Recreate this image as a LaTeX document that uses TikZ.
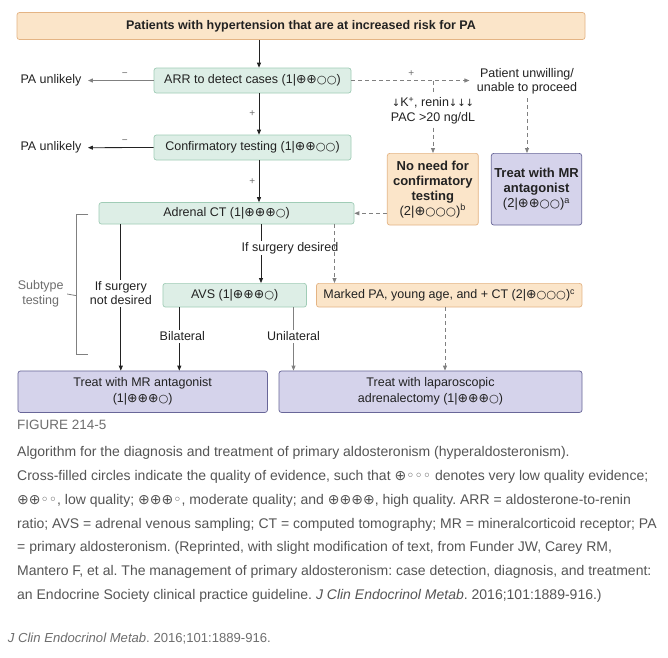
\documentclass[tikz,border=0pt]{standalone}
\usepackage{fontspec}
\setmainfont{Liberation Sans}
\newfontfamily\symfont{DejaVu Sans}
\usetikzlibrary{arrows.meta,calc,positioning}
\definecolor{ink}{RGB}{34,34,34}
\definecolor{graylink}{RGB}{128,128,128}
\definecolor{graytext}{RGB}{110,110,110}
\definecolor{captext}{RGB}{85,85,85}
\definecolor{peachfill}{RGB}{251,229,201}
\definecolor{peachline}{RGB}{228,180,132}
\definecolor{greenfill}{RGB}{221,238,230}
\definecolor{greenline}{RGB}{160,204,182}
\definecolor{purplefill}{RGB}{213,211,235}
\definecolor{purpleline}{RGB}{104,102,152}
\newcommand{\cp}{{\symfont\scalebox{1.0}{⊕}}}
\newcommand{\oc}{{\symfont\scalebox{0.9}{○}}}
\newcommand{\smc}{{\symfont ◦}}
\newcommand{\dn}{{\symfont\scalebox{0.8}{↓}}}
\frenchspacing

\begin{document}
\begin{tikzpicture}[x=1pt,y=-1pt,
	box/.style={rounded corners=2.5pt, line width=0.7pt, align=center, inner sep=0pt, text=ink, font=\fontsize{12.5}{14.7}\selectfont},
	greenbox/.style={box, fill=greenfill, draw=greenline},
	peachbox/.style={box, fill=peachfill, draw=peachline},
	purplebox/.style={box, fill=purplefill, draw=purpleline},
	plain/.style={text=ink, align=center, font=\fontsize{12.5}{14.7}\selectfont},
	cut/.style={plain, fill=white, inner sep=1.5pt},
	sign/.style={text=graytext, font=\fontsize{10}{12}\selectfont},
	flow/.style={draw=ink, line width=0.8pt, -{Triangle[length=5pt,width=4pt]}},
	grayflow/.style={flow, draw=graylink, line width=1.4pt},
	dashflow/.style={flow, draw=graylink, dash pattern=on 4pt off 3pt},
	bracket/.style={draw=graylink, line width=0.8pt}]
		\useasboundingbox (0,0) rectangle (668,657);
		\fill[white] (0,0) rectangle (668,657);
		\draw (301,26) node[peachbox, minimum width=568pt, minimum height=27pt, font=\bfseries\fontsize{12.5}{14}\selectfont](risk){Patients with hypertension that are at increased risk for PA};
		\draw (252.5,80.5) node[greenbox, minimum width=197pt, minimum height=25pt](arr){ARR to detect cases (1|\cp\cp\oc\oc)};
		\draw (252.5,147.5) node[greenbox, minimum width=197pt, minimum height=25pt](conf){Confirmatory testing (1|\cp\cp\oc\oc)};
		\draw (226.5,213.3) node[greenbox, minimum width=255pt, minimum height=21.5pt](ct){Adrenal CT (1|\cp\cp\cp\oc)};
		\draw (432.8,189.2) node[peachbox, minimum width=91pt, minimum height=71.7pt, font=\fontsize{13}{15}\selectfont](noneed){\textbf{No need for}\\\textbf{confirmatory}\\\textbf{testing}\\(2|\cp\oc\oc\oc)\textsuperscript{b}};
		\draw (536.5,189.2) node[purplebox, minimum width=90.4pt, minimum height=71.7pt, font=\fontsize{13}{15}\selectfont](mrtop){\textbf{Treat with MR}\\\textbf{antagonist}\\(2|\cp\cp\oc\oc)\textsuperscript{a}};
		\draw (234.7,295.2) node[greenbox, minimum width=143.5pt, minimum height=23.7pt](avs){AVS (1|\cp\cp\cp\oc)};
		\draw (449.2,295.2) node[peachbox, minimum width=265.5pt, minimum height=23.7pt](marked){Marked PA, young age, and + CT (2|\cp\oc\oc\oc)\textsuperscript{c}};
		\draw (142.7,391.7) node[purplebox, minimum width=249.5pt, minimum height=41.5pt, font=\fontsize{12.5}{16}\selectfont](mrlow){Treat with MR antagonist\\(1|\cp\cp\cp\oc)};
		\draw (430.5,391.7) node[purplebox, minimum width=303pt, minimum height=41.5pt, font=\fontsize{12.5}{16}\selectfont](lap){Treat with laparoscopic\\adrenalectomy (1|\cp\cp\cp\oc)};
		\draw (17,80.5) node[plain, anchor=west](unlikelyA){PA unlikely};
		\draw (17,147.7) node[plain, anchor=west](unlikelyB){PA unlikely};
		\draw (527,81.4) node[plain](unwilling){Patient unwilling/\\unable to proceed};
		\draw (433,110.7) node[plain](labs){\dn K\textsuperscript{+}, renin\dn\dn\dn\\PAC >20 ng/dL};
		\draw (40.7,294) node[plain, text=graytext](subtype){Subtype\\testing};
		\coordinate (spine) at (259,0);
		\coordinate (lanea) at (120.8,0);
		\coordinate (laneb) at (261,0);
		\coordinate (lanec) at (334.5,0);
		\coordinate (laned) at (179.3,0);
		\coordinate (lanee) at (293.5,0);
		\coordinate (lanef) at (445,0);
		\coordinate (fork) at (labs.north |- arr.east);
		\draw[flow] (risk.south -| spine) -- (arr.north -| spine);
		\draw[flow] (arr.south -| spine) -- (conf.north -| spine) node[pos=0.5, left, sign]{+};
		\draw[flow] (conf.south -| spine) -- (ct.north -| spine) node[pos=0.5, left, sign]{+};
		\draw[grayflow, shorten >=3pt] (arr.west) -- (unlikelyA.east) node[pos=0.42, above, sign]{−};
		\draw[flow, shorten >=3pt] (conf.west) -- (unlikelyB.east) node[pos=0.42, above, sign]{−};
		\draw[dashflow, shorten >=4pt] (arr.east) -- (unwilling.west |- arr.east) node[pos=0.49, above, sign]{+};
		\draw[dashflow, -] (fork) -- (labs.north);
		\draw[dashflow] (labs.south) -- (noneed.north -| labs.south);
		\draw[dashflow] (unwilling.south) -- (mrtop.north -| unwilling.south);
		\draw[dashflow] (noneed.west |- ct.east) -- (ct.east);
		\draw[flow] (ct.south -| lanea) -- (mrlow.north -| lanea) node[pos=0.47, cut]{If surgery\\not desired};
		\draw[flow] (ct.south -| laneb) -- (avs.north -| laneb) node[pos=0.4, cut, xshift=29pt]{If surgery desired};
		\draw[dashflow] (ct.south -| lanec) -- (marked.north -| lanec);
		\draw[flow] (avs.south -| laned) -- (mrlow.north -| laned) node[pos=0.46, cut, xshift=3pt]{Bilateral};
		\draw[flow, draw=graylink] (avs.south -| lanee) -- (lap.north -| lanee) node[pos=0.46, cut]{Unilateral};
		\draw[dashflow] (marked.south -| lanef) -- (lap.north -| lanef);
		\draw[bracket] (88.3,214.3) -- (76.7,214.3) -- (76.7,354.3) -- (88.3,354.3);
		\draw[bracket] (76.7,295.7) -- (subtype.east);
		\draw (17,425) node[anchor=west, inner sep=0pt, text=graytext, font=\fontsize{13.5}{16}\selectfont](figno){FIGURE 214-5};
		\draw (17,446) node[anchor=north west, inner sep=0pt, align=left, text=captext, font=\fontsize{14}{23.9}\selectfont](legend){Algorithm for the diagnosis and treatment of primary aldosteronism (hyperaldosteronism).\\
Cross-filled circles indicate the quality of evidence, such that {\symfont ⊕}\smc\smc\smc{} denotes very low quality evidence;\\
{\symfont ⊕⊕}\smc\smc, low quality; {\symfont ⊕⊕⊕}\smc, moderate quality; and {\symfont ⊕⊕⊕⊕}, high quality. ARR = aldosterone-to-renin\\
ratio; AVS = adrenal venous sampling; CT = computed tomography; MR = mineralcorticoid receptor; PA\\
= primary aldosteronism. (Reprinted, with slight modification of text, from Funder JW, Carey RM,\\
Mantero F, et al. The management of primary aldosteronism: case detection, diagnosis, and treatment:\\
an Endocrine Society clinical practice guideline. \textit{J Clin Endocrinol Metab}. 2016;101:1889-916.)};
		\draw (7.7,639) node[anchor=west, inner sep=0pt, text=graytext, font=\fontsize{13.1}{16}\selectfont](source){\textit{J Clin Endocrinol Metab}. 2016;101:1889-916.};
	\end{tikzpicture}
\end{document}
